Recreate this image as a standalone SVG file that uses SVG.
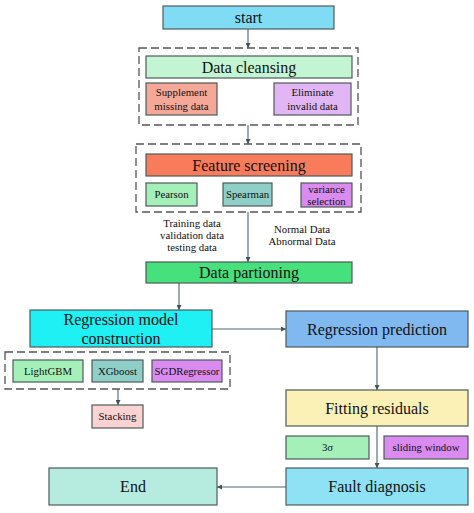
<svg xmlns="http://www.w3.org/2000/svg" width="474" height="513" viewBox="0 0 474 513">
<style>
.b{stroke:#4d5a5a;stroke-width:1.2}
.d{fill:none;stroke:#555;stroke-width:1.3;stroke-dasharray:8,4}
.t{font-family:"Liberation Serif","Times New Roman",serif;fill:#111;text-anchor:middle}
.L{font-size:16px}
.s{font-size:10.8px}
.c{stroke:#4a6666;stroke-width:1.1;fill:none}
</style>
<defs>
<marker id="a" viewBox="0 0 6 6" refX="6" refY="3" markerWidth="5" markerHeight="5" orient="auto" markerUnits="userSpaceOnUse">
<path d="M0,0 L6,3 L0,6 z" fill="#3d5555"/>
</marker>
</defs>
<rect width="474" height="513" fill="#fff"/>
<g id="connectors">
<line class="c" x1="248" y1="29" x2="248" y2="48" marker-end="url(#a)"/>
<line class="c" x1="248" y1="125" x2="248" y2="144" marker-end="url(#a)"/>
<line class="c" x1="248" y1="212" x2="248" y2="262" marker-end="url(#a)"/>
<line class="c" x1="179" y1="283" x2="179" y2="310" marker-end="url(#a)"/>
<line class="c" x1="212" y1="329" x2="286" y2="329" marker-end="url(#a)"/>
<line class="c" x1="118" y1="389" x2="118" y2="405" marker-end="url(#a)"/>
<line class="c" x1="377" y1="347" x2="377" y2="390" marker-end="url(#a)"/>
<line class="c" x1="377" y1="426" x2="377" y2="468" marker-end="url(#a)"/>
<line class="c" x1="286" y1="487" x2="217" y2="487" marker-end="url(#a)"/>
</g>
<g id="start"><rect class="b" x="163" y="6" width="171" height="23" fill="#80dcf4"/><text class="t L" x="248.5" y="23">start</text></g>
<g id="cleansing-group"><rect class="d" x="139" y="48" width="219" height="77"/></g>
<g id="data-cleansing"><rect class="b" x="146" y="56" width="206" height="22" fill="#c4f5d2"/><text class="t L" x="249" y="72.5">Data cleansing</text></g>
<g id="supplement"><rect class="b" x="146" y="83" width="71" height="32" fill="#f6a898"/><text class="t s" x="181.5" y="96">Supplement</text><text class="t s" x="181.5" y="110">missing data</text></g>
<g id="eliminate"><rect class="b" x="274" y="83" width="77" height="32" fill="#e2b6f4"/><text class="t s" x="312.5" y="96">Eliminate</text><text class="t s" x="312.5" y="110">invalid data</text></g>
<g id="screening-group"><rect class="d" x="136" y="144" width="225" height="68"/></g>
<g id="feature-screening"><rect class="b" x="146" y="154" width="206" height="22" fill="#f87b5c"/><text class="t L" x="249" y="170.5">Feature screening</text></g>
<g id="pearson"><rect class="b" x="146" y="183" width="51" height="23" fill="#a4f0b8"/><text class="t s" x="171.5" y="198">Pearson</text></g>
<g id="spearman"><rect class="b" x="223" y="183" width="49" height="23" fill="#8fcfc8"/><text class="t s" x="247.5" y="198">Spearman</text></g>
<g id="variance"><rect class="b" x="301" y="183" width="51" height="24" fill="#d98bf0"/><text class="t s" x="326.5" y="192.5">variance</text><text class="t s" x="326.5" y="205">selection</text></g>
<g id="labels">
<text class="t s" x="192" y="227">Training data</text>
<text class="t s" x="192" y="239">validation data</text>
<text class="t s" x="192" y="251">testing data</text>
<text class="t s" x="302" y="233">Normal Data</text>
<text class="t s" x="302" y="245">Abnormal Data</text>
</g>
<g id="data-partioning"><rect class="b" x="146" y="262" width="206" height="21" fill="#46e07c"/><text class="t L" x="249" y="278">Data partioning</text></g>
<g id="regression-model"><rect class="b" x="30" y="310" width="182" height="37" fill="#1ef0f4"/><text class="t L" x="121" y="325">Regression model</text><text class="t L" x="121" y="344">construction</text></g>
<g id="regression-prediction"><rect class="b" x="286" y="311" width="182" height="36" fill="#80b8f0"/><text class="t L" x="377" y="334.5">Regression prediction</text></g>
<g id="models-group"><rect class="d" x="5" y="352" width="225" height="37"/></g>
<g id="lightgbm"><rect class="b" x="13" y="360" width="70" height="22" fill="#a4f0b8"/><text class="t s" x="48" y="374.5">LightGBM</text></g>
<g id="xgboost"><rect class="b" x="92" y="360" width="51" height="22" fill="#8fcfc8"/><text class="t s" x="117.5" y="374.5">XGboost</text></g>
<g id="sgd"><rect class="b" x="152" y="360" width="70" height="22" fill="#d98bf0"/><text class="t s" x="187" y="374.5">SGDRegressor</text></g>
<g id="stacking"><rect class="b" x="92" y="405" width="51" height="23" fill="#fcd2d2"/><text class="t s" x="117.5" y="420">Stacking</text></g>
<g id="fitting-residuals"><rect class="b" x="286" y="390" width="182" height="36" fill="#fbf0b6"/><text class="t L" x="377" y="413.5">Fitting residuals</text></g>
<g id="three-sigma"><rect class="b" x="286" y="436" width="83" height="23" fill="#a4f0b8"/><text class="t s" x="327.5" y="451">3σ</text></g>
<g id="sliding-window"><rect class="b" x="384" y="436" width="84" height="23" fill="#d98bf0"/><text class="t s" x="426" y="451">sliding window</text></g>
<g id="fault-diagnosis"><rect class="b" x="286" y="468" width="182" height="37" fill="#8fe2f4"/><text class="t L" x="377" y="492">Fault diagnosis</text></g>
<g id="end"><rect class="b" x="49" y="468" width="168" height="37" fill="#b6ece0"/><text class="t L" x="133" y="492">End</text></g>
</svg>
